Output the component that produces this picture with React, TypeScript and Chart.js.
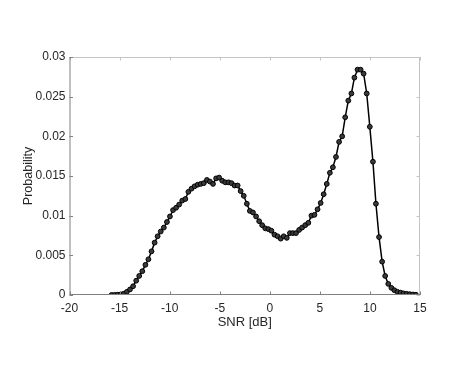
import React, { useEffect, useRef } from "react";
import { Chart, registerables } from "chart.js";

Chart.register(...registerables);

const snrDb: number[] = [
  -15.8, -15.49, -15.19, -14.88, -14.57, -14.27, -13.96, -13.65, -13.34, -13.04,
  -12.73, -12.42, -12.12, -11.81, -11.5, -11.2, -10.89, -10.58, -10.27, -9.97,
  -9.66, -9.35, -9.05, -8.74, -8.43, -8.13, -7.82, -7.51, -7.2, -6.9,
  -6.59, -6.28, -5.98, -5.67, -5.36, -5.06, -4.75, -4.44, -4.13, -3.83,
  -3.52, -3.21, -2.91, -2.6, -2.29, -1.99, -1.68, -1.37, -1.06, -0.76,
  -0.45, -0.14, 0.16, 0.47, 0.78, 1.09, 1.39, 1.7, 2.01, 2.31,
  2.62, 2.93, 3.23, 3.54, 3.85, 4.16, 4.46, 4.77, 5.08, 5.38,
  5.69, 6.0, 6.3, 6.61, 6.92, 7.23, 7.53, 7.84, 8.15, 8.45,
  8.76, 9.07, 9.37, 9.68, 9.99, 10.3, 10.6, 10.91, 11.22, 11.52,
  11.83, 12.14, 12.44, 12.75, 13.06, 13.36, 13.67, 13.98, 14.29, 14.59,
];

const probability: number[] = [
  0.0, 0.00002, 0.00004, 0.00008, 0.00016, 0.0004, 0.0007, 0.0011, 0.0018, 0.0024,
  0.003, 0.0038, 0.0045, 0.0055, 0.0066, 0.0074, 0.008, 0.0085, 0.0092, 0.0099,
  0.0107, 0.011, 0.0114, 0.0119, 0.0121, 0.013, 0.0134, 0.0137, 0.0139, 0.014,
  0.0141, 0.0145, 0.0143, 0.014, 0.0147, 0.0148, 0.0144, 0.0142, 0.0142, 0.0141,
  0.0138, 0.0138, 0.0131, 0.0125, 0.0115, 0.0106, 0.0104, 0.0099, 0.0093, 0.0088,
  0.0084, 0.0083, 0.0081, 0.0076, 0.0074, 0.0071, 0.0074, 0.0072, 0.0078, 0.0078,
  0.0078, 0.0082, 0.0085, 0.0088, 0.0091, 0.01, 0.0101, 0.0108, 0.0116, 0.0127,
  0.014, 0.0154, 0.0161, 0.0174, 0.0193, 0.02, 0.0224, 0.0245, 0.0254, 0.0274,
  0.0284, 0.0284, 0.0279, 0.0254, 0.0212, 0.0168, 0.0115, 0.0073, 0.0042, 0.0024,
  0.0014, 0.0009, 0.0006, 0.0004, 0.0003, 0.0002, 0.00015, 0.0001, 0.00006, 0.00003,
];

const xTicks: number[] = [-20, -15, -10, -5, 0, 5, 10, 15];
const yTicks: number[] = [0, 0.005, 0.01, 0.015, 0.02, 0.025, 0.03];

const FONT = "'Liberation Sans', Arial, Helvetica, sans-serif";
const TEXT = "#262626";

const boxPlugin = {
  id: "matlabBox",
  afterDatasetsDraw(chart: any) {
    const { ctx, chartArea } = chart;
    const { left, right, top, bottom } = chartArea;
    const xs = chart.scales.x;
    const ys = chart.scales.y;
    const L = 3.5;
    ctx.save();
    ctx.lineWidth = 1;
    ctx.strokeStyle = "#c4c4c4";
    ctx.beginPath();
    ctx.moveTo(left, top + 0.5);
    ctx.lineTo(right, top + 0.5);
    ctx.moveTo(right - 0.5, top);
    ctx.lineTo(right - 0.5, bottom);
    xTicks.forEach((v) => {
      const px = Math.round(xs.getPixelForValue(v)) + 0.5;
      ctx.moveTo(px, top);
      ctx.lineTo(px, top + L);
    });
    yTicks.forEach((v) => {
      const py = Math.round(ys.getPixelForValue(v)) + 0.5;
      ctx.moveTo(right, py);
      ctx.lineTo(right - L, py);
    });
    ctx.stroke();
    ctx.strokeStyle = "#808080";
    ctx.beginPath();
    ctx.moveTo(left + 0.5, top);
    ctx.lineTo(left + 0.5, bottom);
    ctx.moveTo(left, bottom - 0.5);
    ctx.lineTo(right, bottom - 0.5);
    xTicks.forEach((v) => {
      const px = Math.round(xs.getPixelForValue(v)) + 0.5;
      ctx.moveTo(px, bottom);
      ctx.lineTo(px, bottom - L);
    });
    yTicks.forEach((v) => {
      const py = Math.round(ys.getPixelForValue(v)) + 0.5;
      ctx.moveTo(left, py);
      ctx.lineTo(left + L, py);
    });
    ctx.stroke();
    ctx.restore();
  },
};

export default function App() {
  const canvasRef = useRef<HTMLCanvasElement | null>(null);

  useEffect(() => {
    const canvas = canvasRef.current;
    if (!canvas) return;
    const points = snrDb.map((x, i) => ({ x, y: probability[i] }));
    const chart = new Chart(canvas, {
      type: "scatter",
      data: {
        datasets: [
          {
            data: points,
            showLine: true,
            borderColor: "#000000",
            borderWidth: 1.5,
            pointRadius: 2.4,
            pointBorderWidth: 1,
            pointBorderColor: "#000000",
            pointBackgroundColor: "#3a3a3a",
            tension: 0,
          },
        ],
      },
      options: {
        animation: false,
        responsive: false,
        maintainAspectRatio: false,
        devicePixelRatio: 1,
        layout: { padding: { left: 0, right: 54, top: 57, bottom: 0 } },
        plugins: {
          legend: { display: false },
          tooltip: { enabled: false },
        },
        scales: {
          x: {
            type: "linear",
            min: -20,
            max: 15,
            afterFit: (s: any) => {
              s.height = 71;
            },
            afterBuildTicks: (s: any) => {
              s.ticks = xTicks.map((v) => ({ value: v }));
            },
            grid: { display: false, drawTicks: false },
            border: { display: false },
            ticks: {
              color: TEXT,
              font: { family: FONT, size: 12 },
              padding: 6,
              maxRotation: 0,
              autoSkip: false,
              callback: (v: any) => String(v),
            },
            title: {
              display: true,
              text: "SNR [dB]",
              color: TEXT,
              font: { family: FONT, size: 13 },
              padding: { top: 0, bottom: 36 },
            },
          },
          y: {
            type: "linear",
            min: 0,
            max: 0.03,
            afterFit: (s: any) => {
              s.width = 69.5;
            },
            afterBuildTicks: (s: any) => {
              s.ticks = yTicks.map((v) => ({ value: v }));
            },
            grid: { display: false, drawTicks: false },
            border: { display: false },
            ticks: {
              color: TEXT,
              font: { family: FONT, size: 12 },
              padding: 4,
              autoSkip: false,
              callback: (v: any) => String(+Number(v).toFixed(3)),
            },
            title: {
              display: true,
              text: "Probability",
              color: TEXT,
              font: { family: FONT, size: 12.5 },
              padding: { top: 21, bottom: 0 },
            },
          },
        },
      },
      plugins: [boxPlugin],
    });
    return () => chart.destroy();
  }, []);

  return (
    <div
      style={{
        position: "fixed",
        left: 0,
        top: 0,
        width: 474,
        height: 366,
        background: "#ffffff",
      }}
    >
      <canvas ref={canvasRef} width={474} height={366} style={{ width: 474, height: 366 }} />
    </div>
  );
}
